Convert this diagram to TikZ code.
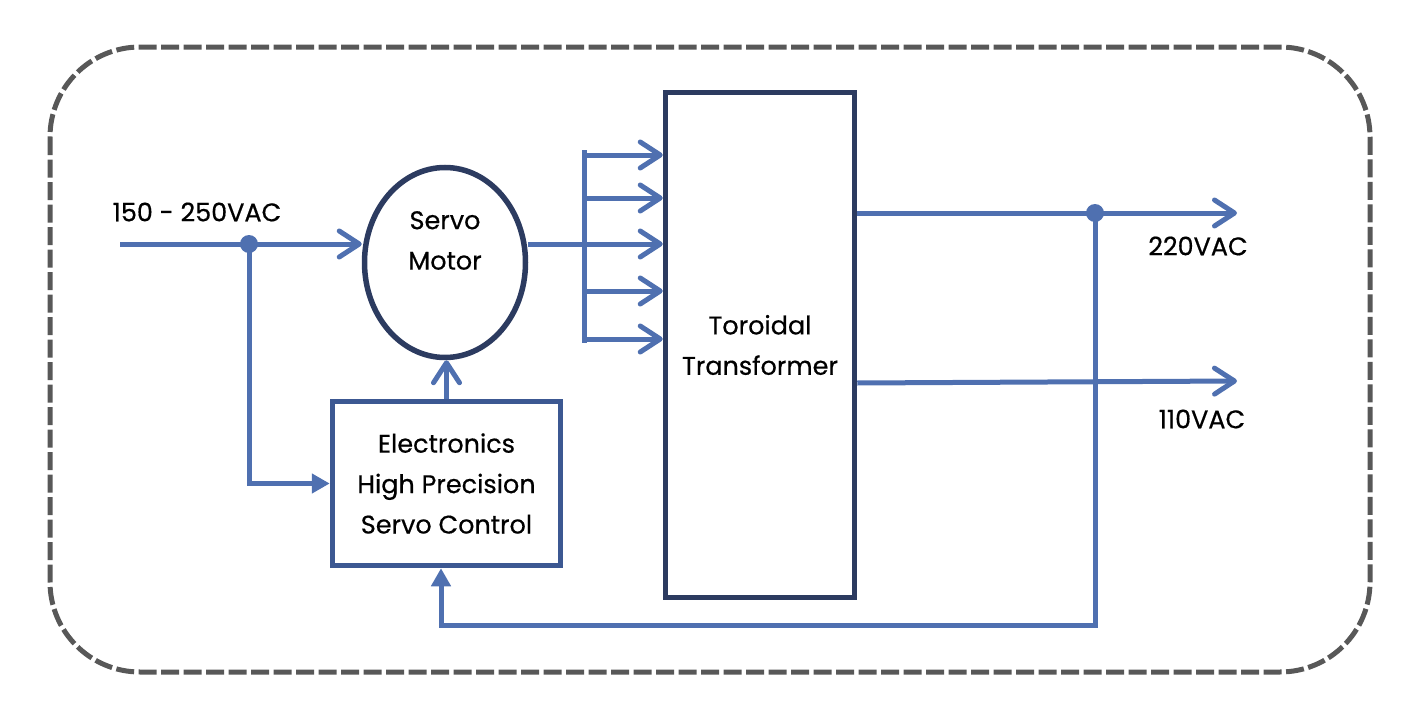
\documentclass[tikz,border=0pt]{standalone}
\usepackage{fontspec}
\setmainfont{Poppins}[UprightFeatures={FakeBold=0.5}]
\usetikzlibrary{arrows.meta,shapes.geometric,positioning}
\definecolor{WireBlue}{RGB}{79,112,176}
\definecolor{NavyEdge}{RGB}{44,59,96}
\definecolor{CtrlEdge}{RGB}{60,88,146}
\definecolor{FrameGray}{RGB}{88,88,88}

\tikzset{
    wire/.style={WireBlue, line width=0.1cm},
    feed/.style={wire, -{Straight Barb[length=0.4cm,width=0.52cm,round]}},
    push/.style={wire, -{Triangle[length=0.36cm,width=0.38cm]}},
    block/.style={draw=NavyEdge, line width=0.11cm, align=center, font=\fontsize{14.5}{23}\selectfont},
    tag/.style={font=\fontsize{14.5}{23}\selectfont, inner sep=0pt},
    junction/.style={circle, fill=WireBlue, inner sep=0pt, minimum size=0.36cm}
}

\begin{document}
\begin{tikzpicture}
    \useasboundingbox (0,0) rectangle (28.36,-14.52);
    % Frame
    \draw[FrameGray, line width=0.1cm, dash pattern=on 0.36cm off 0.09cm, rounded corners=1.8cm] (1.0,-0.94) rectangle (27.4,-13.44);
    % Blocks
    \node[block, ellipse, minimum width=3.22cm, minimum height=3.8cm] (motor) at (8.9,-5.25) {};
    \node[tag, align=center] (motortext) at (8.9,-4.81) {Servo\\Motor};
    \node[block, minimum width=3.78cm, minimum height=10.1cm] (trafo) at (15.2,-6.9) {Toroidal\\Transformer};
    \node[block, draw=CtrlEdge, minimum width=4.56cm, minimum height=3.28cm] (ctrl) at (8.93,-9.67) {Electronics\\High Precision\\Servo Control};
    % Input side
    \coordinate (src) at (2.4,-4.88);
    \coordinate (tapin) at (4.98,-4.88);
    \draw[feed] (src) -- (src -| motor.west);
    \draw[push] (tapin) |- (ctrl.west);
    \draw[feed] (ctrl.north) -- (ctrl.north |- motor.south);
    % Bus into the transformer
    \coordinate (bustop) at (11.68,-3.0);
    \coordinate (busbot) at (11.68,-6.86);
    \draw[wire] (motor.east |- src) -- (src -| bustop);
    \draw[wire] (bustop) -- (busbot);
    \foreach \y in {-3.1,-3.96,-4.88,-5.82,-6.78} {
        \draw[feed] (bustop |- 0,\y) -- (trafo.west |- 0,\y);
    }
    % Outputs
    \coordinate (out1) at (24.74,-4.26);
    \coordinate (out2) at (24.74,-7.62);
    \coordinate (tapout) at (21.9,-4.26);
    \draw[feed] (trafo.east |- 0,-7.66) -- (out2);
    \draw[feed] (trafo.east |- out1) -- (out1);
    % Feedback
    \coordinate (fbturn) at (8.82,-12.5);
    \draw[push] (tapout) |- (fbturn) -- (fbturn |- ctrl.south);
    % Junctions
    \node[junction] (dotin) at (tapin) {};
    \node[junction] (dotout) at (tapout) {};
    % Labels
    \node[tag] (vin) at (3.94,-4.24) {150 - 250VAC};
    \node[tag] (v220) at (23.96,-4.92) {220VAC};
    \node[tag] (v110) at (24.04,-8.38) {110VAC};
\end{tikzpicture}
\end{document}
